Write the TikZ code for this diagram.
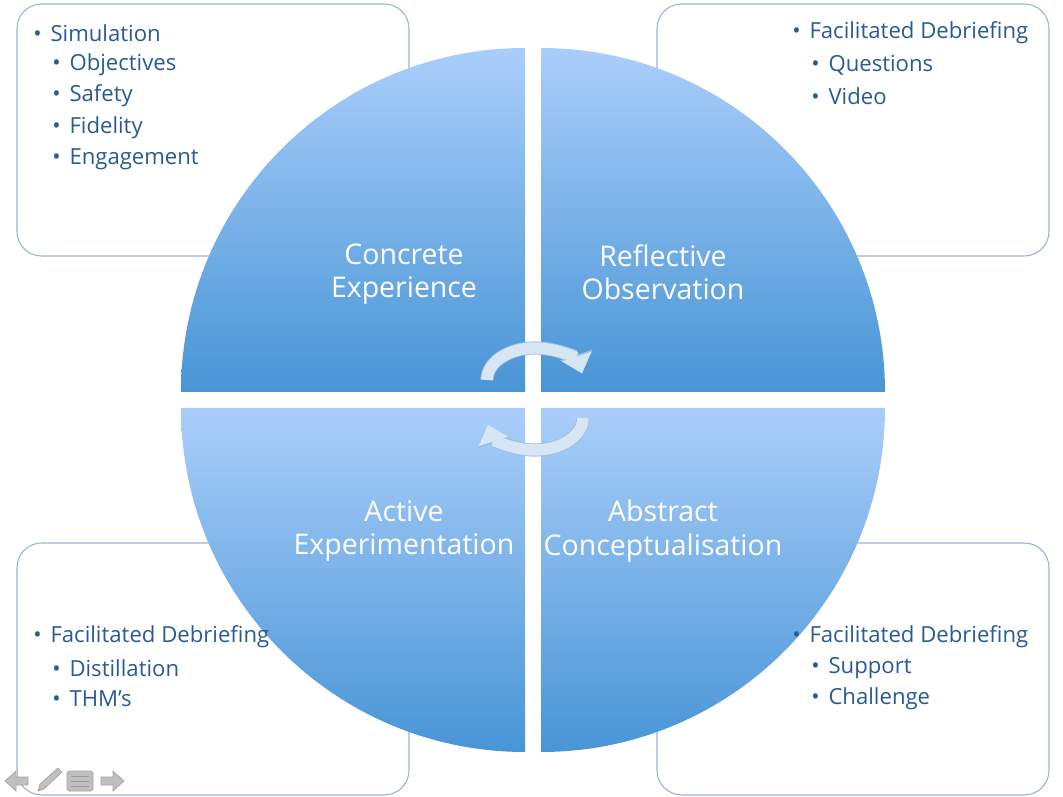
\documentclass[tikz,border=0pt]{standalone}
\usepackage{fontspec}
\setmainfont{Open Sans}
\usetikzlibrary{arrows.meta}
\definecolor{txt}{RGB}{40,90,150}
\definecolor{boxc}{RGB}{150,180,215}
\definecolor{qtop}{RGB}{170,206,250}
\definecolor{qbot}{RGB}{72,149,214}
\definecolor{arr}{RGB}{215,230,245}
\definecolor{arrb}{RGB}{160,190,225}
\begin{document}
\begin{tikzpicture}[x=0.02cm,y=0.02cm,
  box/.style={draw=boxc,line width=0.6pt,rounded corners=14pt},
  quad/.style={top color=qtop,bottom color=qbot,draw=none},
  lab/.style={text=white,font=\fontsize{16.2}{19}\selectfont,align=center},
  it/.style={text=txt,font=\fontsize{12.6}{14}\selectfont,anchor=west,inner sep=0},
  cyc/.style={line width=6.5pt,draw=arr,-{Triangle[width=17pt,length=10pt]},
    preaction={draw=arrb,line width=7.5pt,-{Triangle[width=19pt,length=11pt]}}},
  ic/.style={fill=gray!50,draw=gray!70,line width=0.4pt}]
\useasboundingbox (0,0) rectangle (1063,-797);
\draw[box] (17,-4) rectangle (409,-256);
\draw[box] (657,-4) rectangle (1049,-256);
\draw[box] (17,-543) rectangle (409,-795);
\draw[box] (657,-543) rectangle (1049,-795);
% quadrants
\shade[quad] (525,-392) -- (181,-392) arc[start angle=180,end angle=90,radius=344] -- cycle;
\shade[quad] (541,-392) -- (541,-48) arc[start angle=90,end angle=0,radius=344] -- cycle;
\shade[quad] (525,-408) -- (181,-408) arc[start angle=180,end angle=270,radius=344] -- cycle;
\shade[quad] (541,-408) -- (885,-408) arc[start angle=0,end angle=-90,radius=344] -- cycle;
\node[lab] (ce) at (404,-274) {Concrete\\Experience};
\node[lab] (ro) at (663,-272) {Reflective\\Observation};
\node[lab] (ae) at (404,-531) {Active\\Experimentation};
\node[lab] (ac) at (663,-531) {Abstract\\Conceptualisation};
% cycle arrows
\draw[cyc] (487,-380) arc[start angle=180,end angle=12,x radius=48,y radius=32];
\draw[cyc] (583,-418) arc[start angle=0,end angle=-168,x radius=48,y radius=32];
% lists
\foreach \t/\y/\x [count=\i] in {Simulation/33/33,Objectives/65/52,Safety/96/52,Fidelity/128/52,Engagement/159/52}
  \node[it] (a\i) at (\x,-\y) {•\hspace{0.4em}\t};
\foreach \t/\y/\x [count=\i] in {Facilitated Debriefing/33/792,Questions/65/811,Video/96/811}
  \node[it] (b\i) at (\x,-\y) {•\hspace{0.4em}\t};
\foreach \t/\y/\x [count=\i] in {Facilitated Debriefing/637/33,Distillation/668/52,THM’s/699/52}
  \node[it] (c\i) at (\x,-\y) {•\hspace{0.4em}\t};
\foreach \t/\y/\x [count=\i] in {Facilitated Debriefing/637/792,Support/668/811,Challenge/699/811}
  \node[it] (d\i) at (\x,-\y) {•\hspace{0.4em}\t};
% nav icons
\fill[ic] (5,-781) -- (16,-771) -- (16,-777) -- (28,-777) -- (28,-785) -- (16,-785) -- (16,-791) -- cycle;
\fill[ic] (38,-791) -- (40,-784) -- (58,-768) -- (62,-772) -- (44,-789) -- cycle;
\draw[ic,rounded corners=1pt] (67,-771) rectangle (93,-791);
\foreach \yy in {776,781,786} \draw[gray!80] (71,-\yy) -- (89,-\yy);
\fill[ic] (124,-781) -- (113,-771) -- (113,-777) -- (101,-777) -- (101,-785) -- (113,-785) -- (113,-791) -- cycle;
\end{tikzpicture}
\end{document}
